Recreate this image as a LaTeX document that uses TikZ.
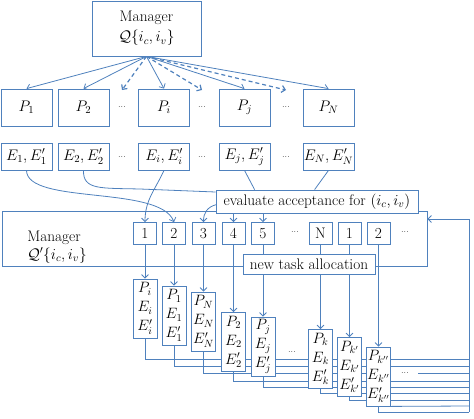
\RequirePackage{fix-cm}
\documentclass[tikz,border=0pt]{standalone}
\usetikzlibrary{arrows.meta,calc}
\pgfdeclarelayer{bg}
\pgfsetlayers{bg,main}
\definecolor{bl}{RGB}{79,129,189}
\newcommand\dgfont{\fontsize{15.3}{18}\selectfont}
\newcommand\dgafont{\fontsize{15}{18.8}\selectfont}
\begin{document}
\begin{tikzpicture}[x=1pt,y=-1pt,
  box/.style={draw=bl, line width=0.8pt, fill=white, inner sep=0pt, font=\dgfont},
  pbox/.style={box, minimum width=51pt, minimum height=37pt},
  ebox/.style={box, minimum width=51pt, minimum height=27pt},
  nbox/.style={box, minimum width=23pt, minimum height=22pt},
  abox/.style={box, minimum width=24pt, minimum height=59pt, align=center, font=\dgafont},
  dotsn/.style={inner sep=0pt, font=\small},
  ln/.style={draw=bl, line width=0.8pt},
  arr/.style={ln, -{Straight Barb[length=3.5pt,width=7pt]}},
  darr/.style={arr, dashed, line width=1.2pt, dash pattern=on 4pt off 3pt}]
\useasboundingbox (0,0) rectangle (474,418);

% top manager
\node[box, minimum width=109pt, minimum height=55pt, align=center] (mgr) at (146.5,28.5) {Manager\\[2pt]$\mathcal{Q}\{i_c,i_v\}$};

% P row
\node[pbox] (p1) at (26.5,107.5) {$P_1$};
\node[pbox] (p2) at (83.5,107.5) {$P_2$};
\node[pbox] (pi) at (164,107.5) {$P_i$};
\node[pbox] (pj) at (244.5,107.5) {$P_j$};
\node[pbox] (pn) at (328.5,107.5) {$P_N$};
\node[dotsn] (pd1) at (122,107) {...};
\node[dotsn] (pd2) at (202,107) {...};
\node[dotsn] (pd3) at (286,107) {...};
\coordinate (t1) at (122,90);
\coordinate (t2) at (202,90);
\coordinate (t3) at (286,90);

% E row
\node[ebox] (e1) at (26.5,156.5) {$E_1,E'_1$};
\node[ebox] (e2) at (83.5,156.5) {$E_2,E'_2$};
\node[ebox] (ei) at (164,156.5) {$E_i,E'_i$};
\node[ebox] (ej) at (244.5,156.5) {$E_j,E'_j$};
\node[ebox] (en) at (328.5,156.5) {$E_N,E'_N$};
\node[dotsn] (ed1) at (122,157) {...};
\node[dotsn] (ed2) at (202,157) {...};
\node[dotsn] (ed3) at (286,157) {...};

% manager prime
\node[draw=bl, line width=0.8pt, minimum width=425pt, minimum height=55pt, inner sep=0pt] (mq) at (214.5,238.5) {};
\node[font=\dgfont, align=left, inner sep=0pt] (mql) at (57,247) {Manager\\$\mathcal{Q}'\{i_c,i_v\}$};

% evaluate box
\node[box, minimum width=202pt, minimum height=23pt] (ev) at (317,201.5) {evaluate acceptance for $(i_c,i_v)$};

% number boxes
\node[nbox] (nb1) at (145,233.5) {1};
\node[nbox] (nb2) at (174,233.5) {2};
\node[nbox] (nb3) at (203.5,233.5) {3};
\node[nbox] (nb4) at (233.5,233.5) {4};
\node[nbox] (nb5) at (263,233.5) {5};
\node[dotsn] (nd1) at (295,232) {...};
\node[nbox] (nbN) at (320.5,233.5) {N};
\node[nbox] (nb1b) at (349.5,233.5) {1};
\node[nbox] (nb2b) at (378.5,233.5) {2};
\node[dotsn] (nd2) at (405,232) {...};

% allocation
\node[box, minimum width=132pt, minimum height=20pt] (al) at (309,264) {new task allocation};

% allocated boxes
\node[abox] (ai) at (145,308.5) {$P_i$\\$E_i$\\$E'_i$};
\node[abox] (a1) at (174,315.5) {$P_1$\\$E_1$\\$E'_1$};
\node[abox] (aN) at (203.5,321.5) {$P_N$\\$E_N$\\$E'_N$};
\node[abox] (a2) at (233.5,342) {$P_2$\\$E_2$\\$E'_2$};
\node[abox] (aj) at (263,346.5) {$P_j$\\$E_j$\\$E'_j$};
\node[dotsn] (ad1) at (292,352) {...};
\node[abox] (ak) at (320.5,359) {$P_k$\\$E_k$\\$E'_k$};
\node[abox] (ak1) at (349.5,367) {$P_{k'}$\\$E_{k'}$\\$E'_{k'}$};
\node[abox] (ak2) at (378.5,376.5) {$P_{k''}$\\$E_{k''}$\\$E'_{k''}$};
\node[dotsn] (ad2) at (405,373) {...};

% collector coordinates
\coordinate (c1) at (469,359);
\coordinate (c2) at (469,366);
\coordinate (c3a) at (385,373);
\coordinate (c3b) at (418,373);
\coordinate (c3) at (469,373);
\coordinate (c4) at (469,381);
\coordinate (c5) at (469,387);
\coordinate (c6) at (469,393);
\coordinate (c7) at (469,400);
\coordinate (c8) at (469,406);
\coordinate (c9) at (469,412);
\coordinate (fb) at (469,219);

\begin{pgfonlayer}{bg}
% manager to P row
\draw[arr] (mgr.south) -- (p1.north);
\draw[arr] (mgr.south) -- (p2.north);
\draw[arr] (mgr.south) -- (pi.north);
\draw[arr] (mgr.south) -- (pj.north);
\draw[arr] (mgr.south) -- (pn.north);
\draw[darr] (mgr.south) -- (t1);
\draw[darr] (mgr.south) -- (t2);
\draw[darr] (mgr.south) -- (t3);

% E row to number boxes / evaluate
\draw[arr] (e1.south) .. controls (27,205) and (160,185) .. (nb2.north);
\draw[ln] (e2.south) .. controls (83,190) and (100,188) .. (140,189) -- ($(ev.west)+(0,-9.5)$);
\draw[arr] (ei.south) .. controls (155,190) and (145,200) .. (nb1.north);
\draw[ln] (ej.south) -- ($(ev.north west)+(39,0)$);
\draw[ln] (en.south) -- ($(ev.north west)+(99,0)$);
\draw[arr] ($(ev.west)+(1,3)$) .. controls (207,207) and (203.5,213) .. (nb3.north);
\draw[arr] (ev.south -| nb4.north) -- (nb4.north);
\draw[arr] (ev.south -| nb5.north) -- (nb5.north);

% number boxes to allocation
\draw[arr] (nb1.south) -- (ai.north);
\draw[arr] (nb2.south) -- (a1.north);
\draw[arr] (nb3.south) -- (aN.north);
\draw[arr] (nb4.south) -- (a2.north);
\draw[ln] (nb5.south) -- (nb5.south |- al.north);
\draw[ln] (nbN.south) -- (nbN.south |- al.north);
\draw[ln] (nb1b.south) -- (nb1b.south |- al.north);
\draw[arr] (nb2b.south) -- (ak2.north);
\draw[arr] (al.south -| aj.north) -- (aj.north);
\draw[arr] (al.south -| ak.north) -- (ak.north);
\draw[arr] (al.south -| ak1.north) -- (ak1.north);

% outputs to collector
\draw[ln] (ai.south) |- (c1);
\draw[ln] (a1.south) |- (c2);
\draw[ln] (aN.south) |- (c3a);
\draw[ln] (c3b) -- (c3);
\draw[ln] (a2.south) |- (c4);
\draw[ln] (aj.south) |- (c5);
\draw[ln] (ak.south) |- (c6);
\draw[ln] (ak1.south) |- (c7);
\draw[ln] (ak2.south east) -- (c8);
\draw[ln] (ak2.south) |- (c9);
\draw[arr] (c9) -- (fb) -- (mq.east |- fb);
\end{pgfonlayer}
\end{tikzpicture}
\end{document}
